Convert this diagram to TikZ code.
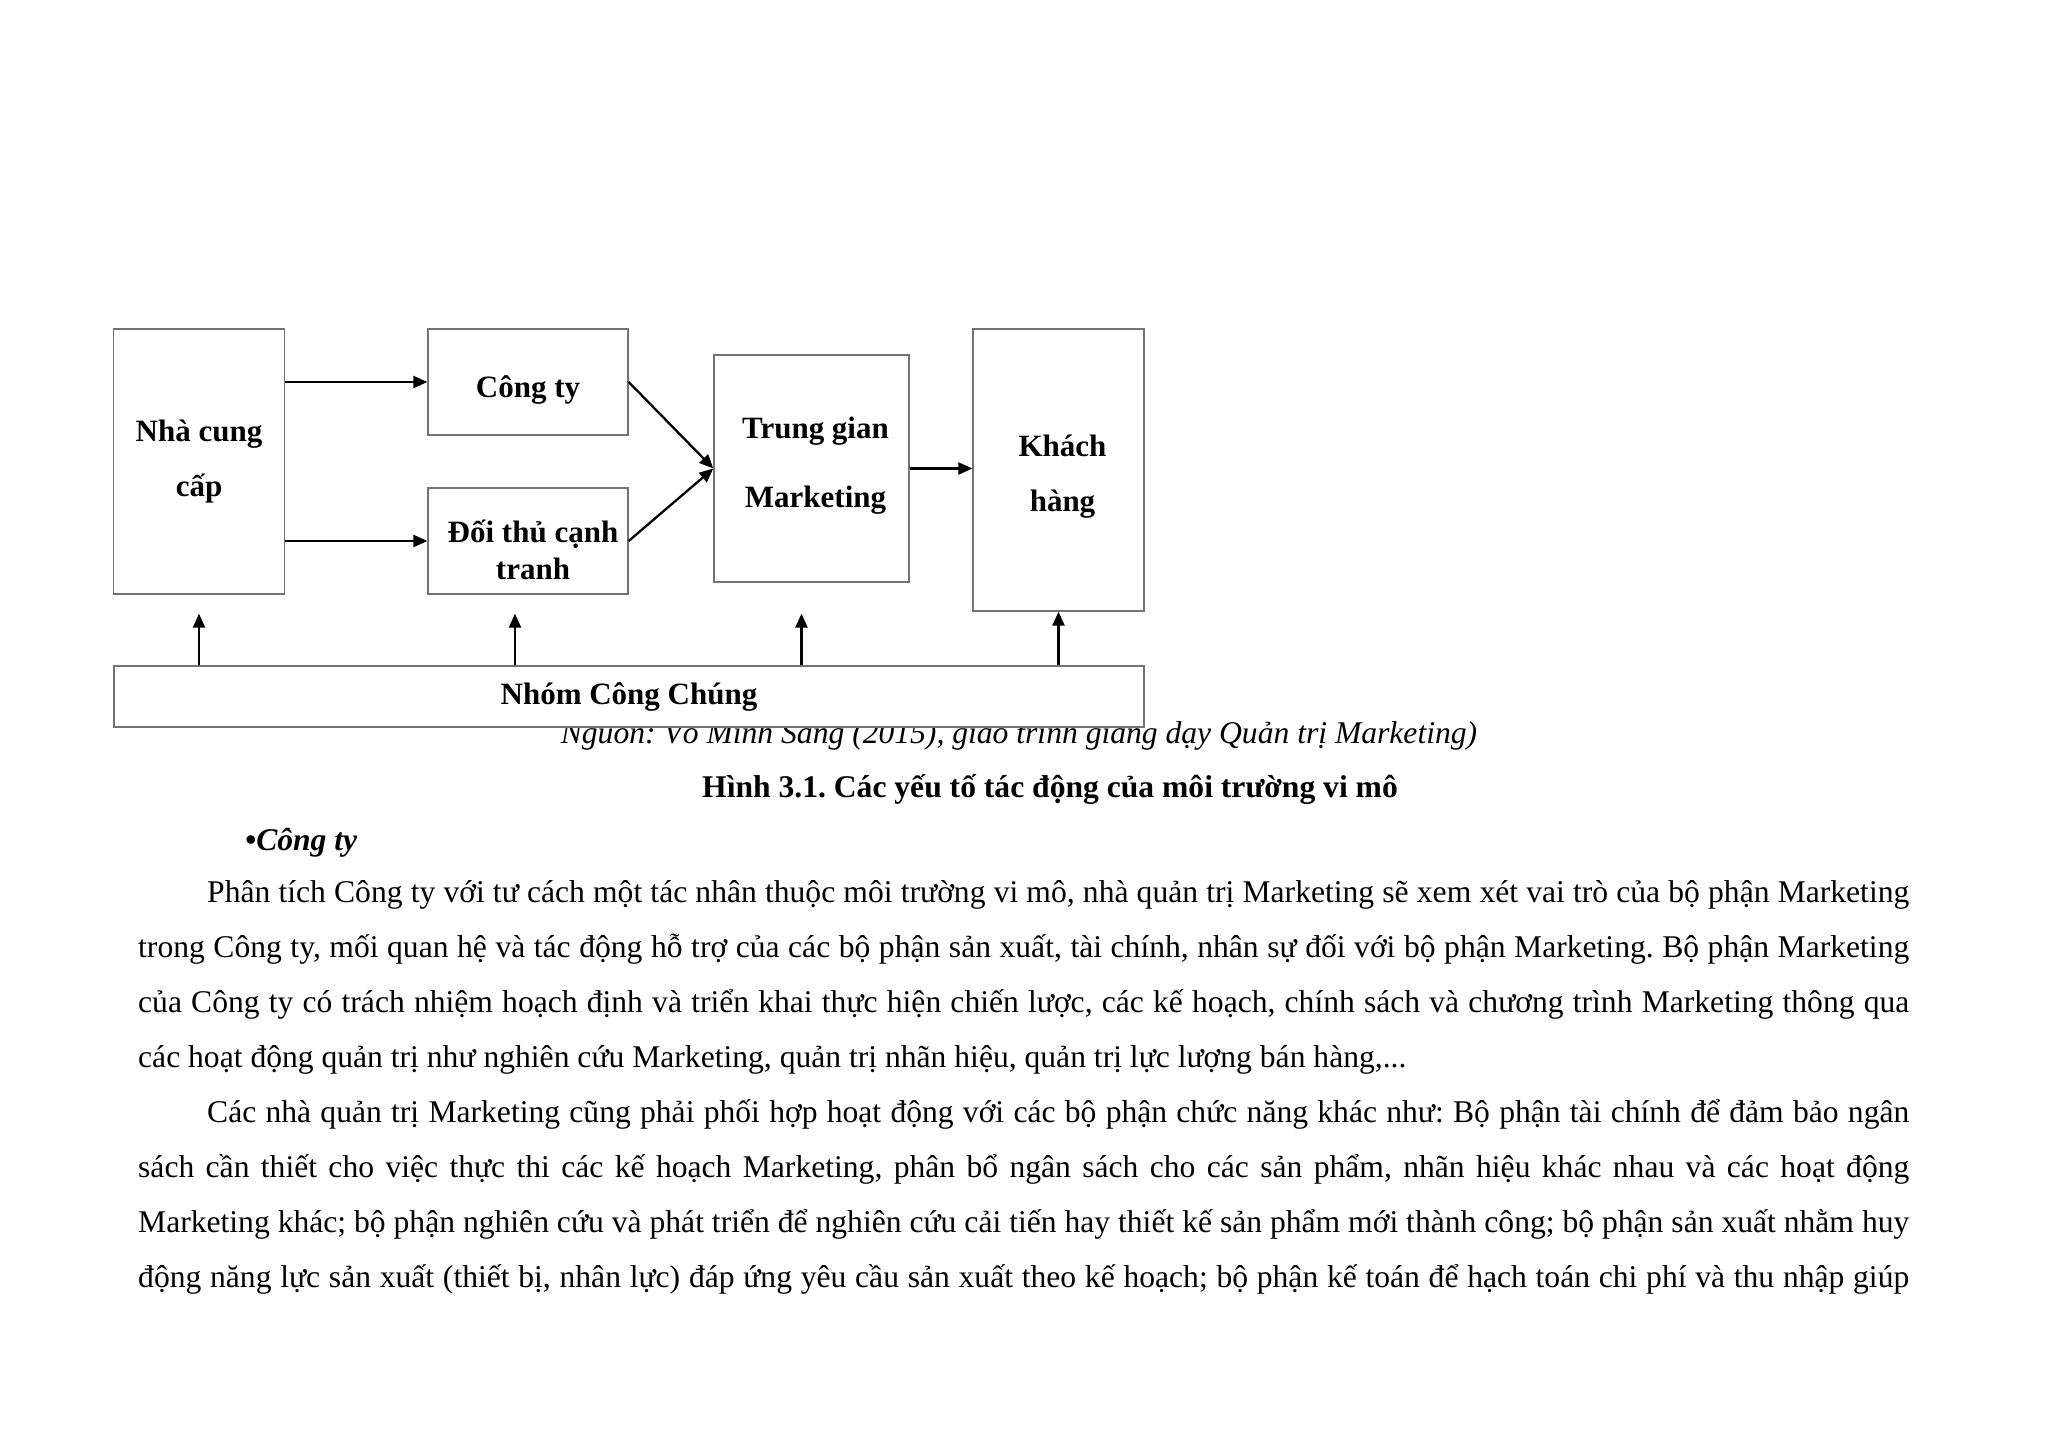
\documentclass[tikz,border=0pt]{standalone}
\usepackage{fontspec}
\setmainfont{Liberation Serif}
\usetikzlibrary{arrows.meta}
\frenchspacing

\tikzset{
  khoi/.style={draw=black!55, line width=1.3pt, fill=white, inner sep=0pt},
  chu/.style={inner sep=0pt, align=center, font=\bfseries\fontsize{31}{55}\selectfont},
  mui/.style={line width=2.3pt, -{Triangle[length=14pt,width=12pt]}},
  dong/.style={anchor=base west, inner sep=0pt, font=\fontsize{31.6}{40}\selectfont},
}

\begin{document}
\begin{tikzpicture}[x=1pt,y=-1pt]
\useasboundingbox (0,0) rectangle (2048,1448);

% source line (its top is hidden by the public box)
\node[dong, anchor=base, font=\itshape\fontsize{31.6}{40}\selectfont] (nguon) at (1019,743) {Nguồn: Võ Minh Sang (2015), giáo trình giảng dạy Quản trị Marketing)};

% boxes
\node[khoi, minimum width=171pt, minimum height=265pt] (nha) at (199,461.5) {};
\node[khoi, minimum width=200pt, minimum height=106pt] (congty) at (528,382) {};
\node[khoi, minimum width=200pt, minimum height=106pt] (doithu) at (528,541) {};
\node[khoi, minimum width=195pt, minimum height=227pt] (trunggian) at (811.5,468.5) {};
\node[khoi, minimum width=171pt, minimum height=282pt] (khach) at (1058.5,470) {};
\node[khoi, minimum width=1030pt, minimum height=61pt] (nhom) at (629,696.5) {};

% box texts
\node[chu] (nha-t) at (nha) {Nhà cung\\cấp};
\node[chu] (congty-t) at ([yshift=-8pt]congty) {Công ty};
\node[chu, font=\bfseries\fontsize{31}{37}\selectfont] (doithu-t) at ([xshift=5pt,yshift=-9pt]doithu) {Đối thủ cạnh\\tranh};
\node[chu, font=\bfseries\fontsize{31}{69}\selectfont] (trunggian-t) at ([xshift=4pt,yshift=2.5pt]trunggian) {Trung gian\\Marketing};
\node[chu] (khach-t) at ([xshift=4pt,yshift=-6.5pt]khach) {Khách\\hàng};
\node[chu] (nhom-t) at (nhom) {Nhóm Công Chúng};

% flows between the actors
\draw[mui] (nha.east |- congty.west) -- (congty.west);
\draw[mui] (nha.east |- doithu.west) -- (doithu.west);
\draw[mui] (congty.east) -- (trunggian.west);
\draw[mui] (doithu.east) -- (trunggian.west);
\draw[mui] (trunggian.east) -- (trunggian.east -| khach.west);

% public acts on every actor
\draw[mui] (nhom.north -| nha.south) -- ([yshift=-19pt]nha.south);
\draw[mui] ([xshift=-13pt]nhom.north -| doithu.south) -- ([xshift=-13pt,yshift=-19pt]doithu.south);
\draw[mui] ([xshift=-10pt]nhom.north -| trunggian.south) -- ([xshift=-10pt,yshift=-31pt]trunggian.south);
\draw[mui] (nhom.north -| khach.south) -- (khach.south);

% figure title and heading
\node[dong, anchor=base, font=\bfseries\fontsize{31.6}{40}\selectfont] (hinh) at (1050,797) {Hình 3.1. Các yếu tố tác động của môi trường vi mô};
\node[dong, font=\bfseries\itshape\fontsize{31.6}{40}\selectfont] (muc) at (245,850) {•Công ty};

% first paragraph
\node[dong] (d1) at (207,902) {\makebox[1702pt][s]{Phân tích Công ty với tư cách một tác nhân thuộc môi trường vi mô, nhà quản trị Marketing sẽ xem xét vai trò của bộ phận Marketing}};
\node[dong] (d2) at (138,957) {\makebox[1771pt][s]{trong Công ty, mối quan hệ và tác động hỗ trợ của các bộ phận sản xuất, tài chính, nhân sự đối với bộ phận Marketing. Bộ phận Marketing}};
\node[dong] (d3) at (138,1012) {\makebox[1771pt][s]{của Công ty có trách nhiệm hoạch định và triển khai thực hiện chiến lược, các kế hoạch, chính sách và chương trình Marketing thông qua}};
\node[dong] (d4) at (138,1067) {các hoạt động quản trị như nghiên cứu Marketing, quản trị nhãn hiệu, quản trị lực lượng bán hàng,...};

% second paragraph
\node[dong] (d5) at (207,1122) {\makebox[1702pt][s]{Các nhà quản trị Marketing cũng phải phối hợp hoạt động với các bộ phận chức năng khác như: Bộ phận tài chính để đảm bảo ngân}};
\node[dong] (d6) at (138,1177) {\makebox[1771pt][s]{sách cần thiết cho việc thực thi các kế hoạch Marketing, phân bổ ngân sách cho các sản phẩm, nhãn hiệu khác nhau và các hoạt động}};
\node[dong] (d7) at (138,1232) {\makebox[1771pt][s]{Marketing khác; bộ phận nghiên cứu và phát triển để nghiên cứu cải tiến hay thiết kế sản phẩm mới thành công; bộ phận sản xuất nhằm huy}};
\node[dong] (d8) at (138,1287) {\makebox[1771pt][s]{động năng lực sản xuất (thiết bị, nhân lực) đáp ứng yêu cầu sản xuất theo kế hoạch; bộ phận kế toán để hạch toán chi phí và thu nhập giúp}};

\end{tikzpicture}
\end{document}
